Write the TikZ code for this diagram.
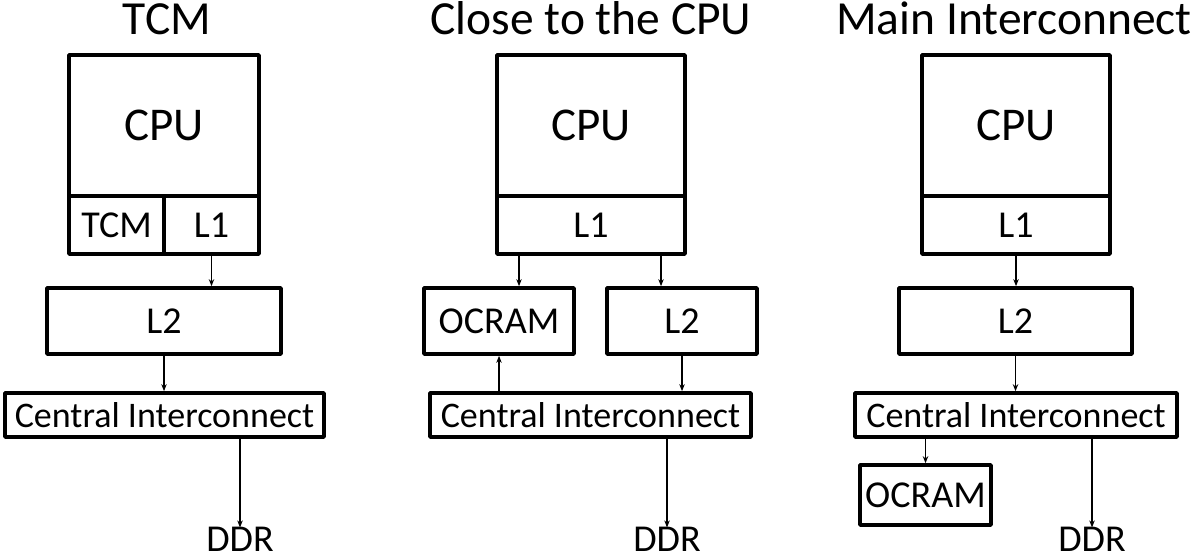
\documentclass[tikz,border=0pt]{standalone}
\usepackage{fontspec}
\setmainfont{Carlito}
\usetikzlibrary{arrows.meta}
\tikzset{
 blk/.style={draw=black, line width=3.7pt, inner sep=0pt, line join=round, rectangle},
 big/.style={font=\fontsize{47}{50}\selectfont},
 lab/.style={font=\fontsize{38}{40}\selectfont},
 cif/.style={font=\fontsize{36}{40}\selectfont},
 ttl/.style={font=\fontsize{47.5}{52}\selectfont, anchor=base, inner sep=0pt},
 ddr/.style={font=\fontsize{38}{40}\selectfont, anchor=base, inner sep=0pt},
 arr/.style={line width=1.3pt, -{Stealth[length=7pt,width=5.5pt]}},
}
\begin{document}
\begin{tikzpicture}[x=1pt,y=-1pt]
\useasboundingbox (0,0) rectangle (1200,553);
% ---------- Panel 1: TCM ----------
\node[ttl] (t1) at (167,35) {TCM};
\node[blk,big,minimum width=190pt,minimum height=141pt] (cpu1) at (164,125.5) {CPU};
\node[blk,lab,minimum width=95pt,minimum height=58pt] (tcm1) at (116.5,225) {TCM};
\node[blk,lab,minimum width=95pt,minimum height=58pt] (l1a) at (211.5,225) {L1};
\node[blk,lab,minimum width=234pt,minimum height=66pt] (l2a) at (164,321) {L2};
\node[blk,cif,minimum width=319pt,minimum height=44pt] (ci1) at (164.5,415) {Central Interconnect};
\node[ddr] (ddr1) at (240,551) {DDR};
\draw[arr] (l1a.south) -- (l1a.south |- l2a.north);
\draw[arr] (l2a.south) -- (l2a.south |- ci1.north);
\draw[arr] (ci1.south -| ddr1.north) -- ([yshift=-1pt]ddr1.north);
% ---------- Panel 2: Close to the CPU ----------
\node[ttl] (t2) at (591,35) {Close to the CPU};
\node[blk,big,minimum width=188pt,minimum height=141pt] (cpu2) at (591,125.5) {CPU};
\node[blk,lab,minimum width=188pt,minimum height=58pt] (l1b) at (591,225) {L1};
\node[blk,lab,minimum width=150pt,minimum height=66pt] (ocram2) at (499,321) {OCRAM};
\node[blk,lab,minimum width=150pt,minimum height=66pt] (l2b) at (682,321) {L2};
\node[blk,cif,minimum width=321pt,minimum height=44pt] (ci2) at (590.5,415) {Central Interconnect};
\node[ddr] (ddr2) at (667,551) {DDR};
\coordinate (p2a) at (519,270);
\coordinate (p2b) at (661,270);
\draw[arr] (l1b.south -| p2a) -- (ocram2.north -| p2a);
\draw[arr] (l1b.south -| p2b) -- (l2b.north -| p2b);
\draw[arr] (ci2.north -| ocram2.south) -- (ocram2.south);
\draw[arr] (l2b.south) -- (l2b.south |- ci2.north);
\draw[arr] (ci2.south -| ddr2.north) -- ([yshift=-1pt]ddr2.north);
% ---------- Panel 3: Main Interconnect ----------
\node[ttl] (t3) at (1014,35) {Main Interconnect};
\node[blk,big,minimum width=188pt,minimum height=141pt] (cpu3) at (1016,125.5) {CPU};
\node[blk,lab,minimum width=188pt,minimum height=58pt] (l1c) at (1016,225) {L1};
\node[blk,lab,minimum width=233pt,minimum height=66pt] (l2c) at (1015.5,321) {L2};
\node[blk,cif,minimum width=322pt,minimum height=44pt] (ci3) at (1016,415) {Central Interconnect};
\node[blk,lab,minimum width=131pt,minimum height=60pt] (ocram3) at (925.5,495) {OCRAM};
\node[ddr] (ddr3) at (1092,551) {DDR};
\draw[arr] (l1c.south) -- (l1c.south |- l2c.north);
\draw[arr] (l2c.south) -- (l2c.south |- ci3.north);
\draw[arr] (ci3.south -| ocram3.north) -- (ocram3.north);
\draw[arr] (ci3.south -| ddr3.north) -- ([yshift=-1pt]ddr3.north);
\end{tikzpicture}
\end{document}
